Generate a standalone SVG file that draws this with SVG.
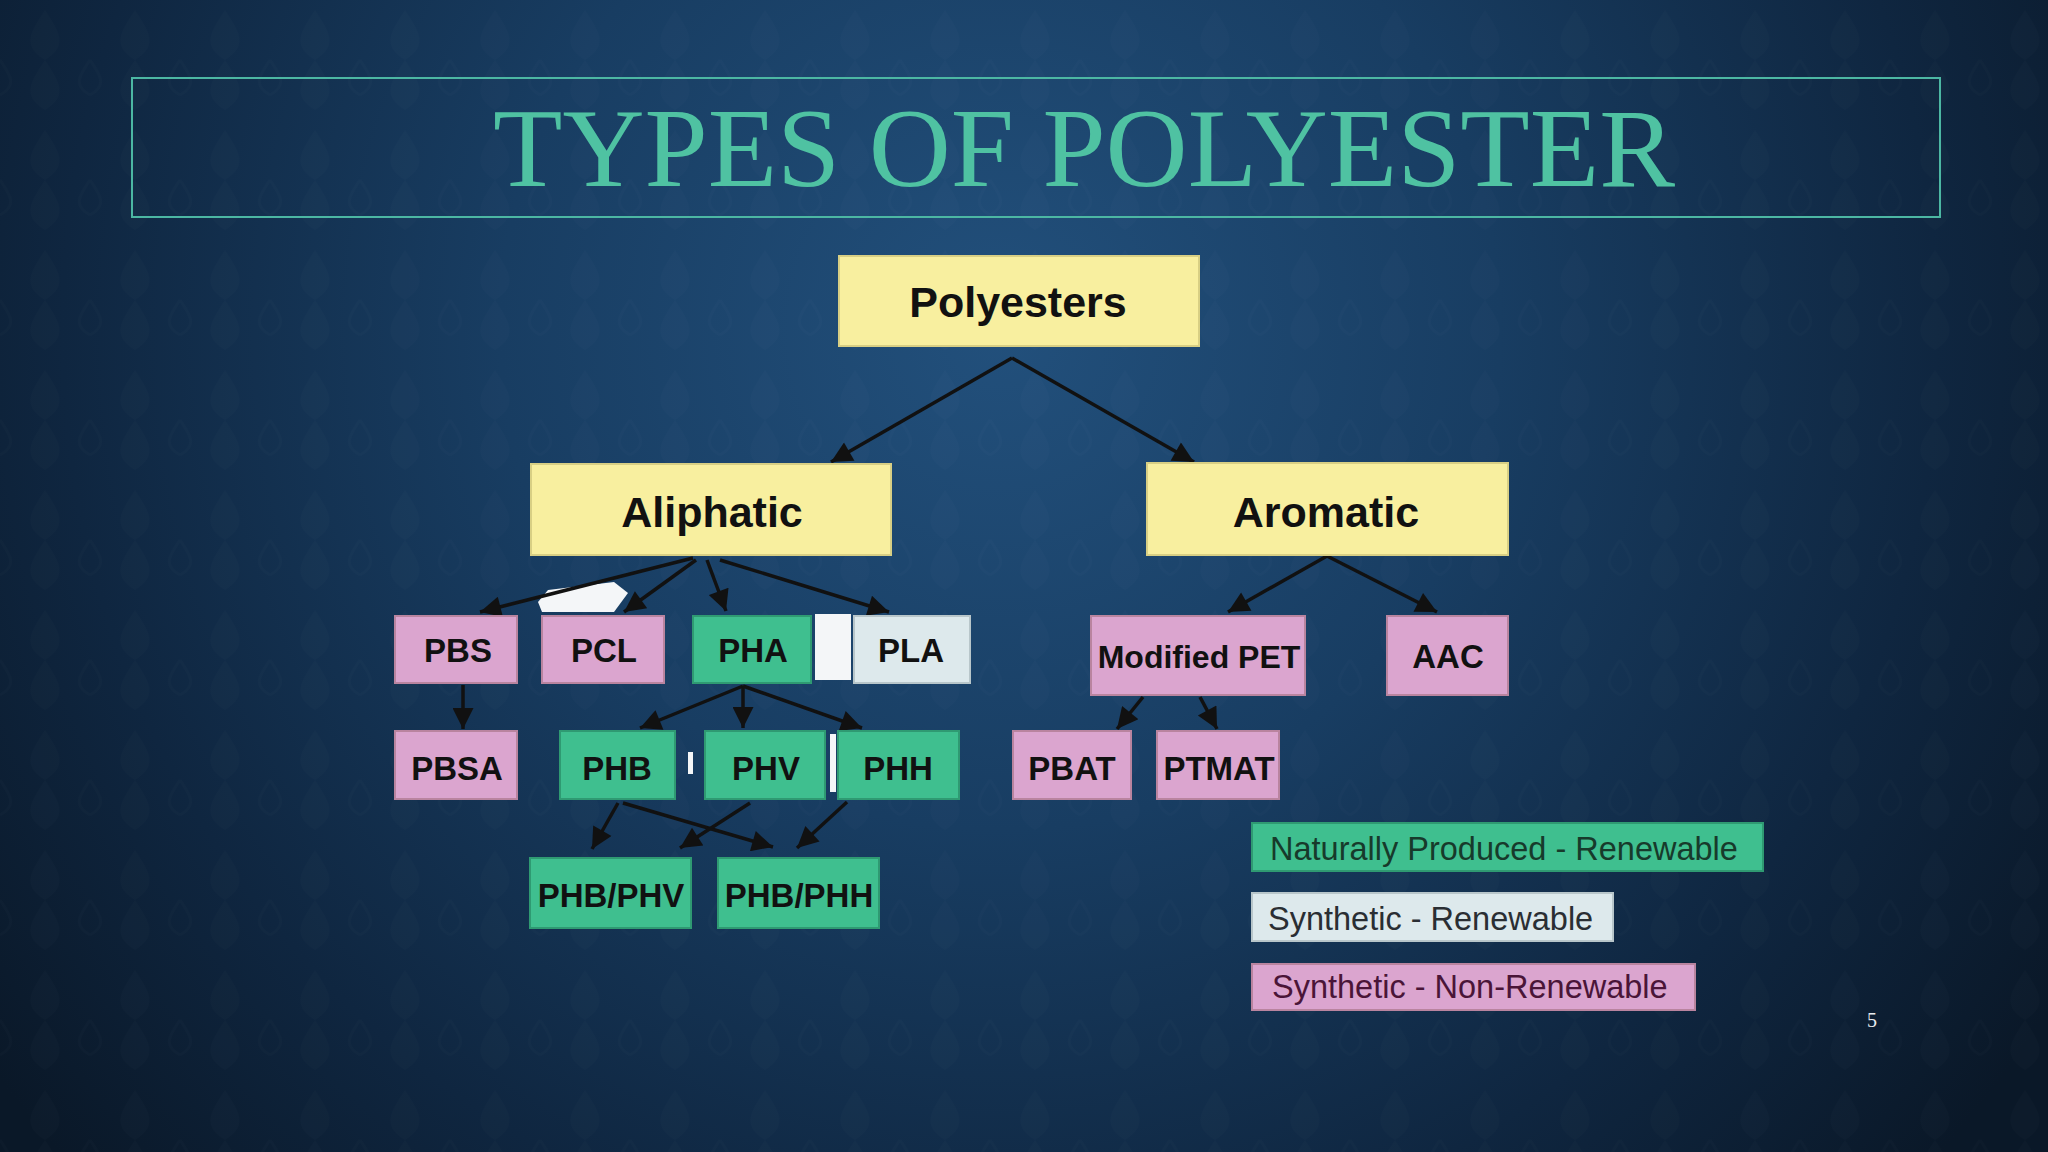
<svg xmlns="http://www.w3.org/2000/svg" width="2048" height="1152" viewBox="0 0 2048 1152">
  <defs>
    <radialGradient id="bg" cx="1000" cy="330" r="1250" gradientUnits="userSpaceOnUse">
      <stop offset="0" stop-color="#22507c"/>
      <stop offset="0.4" stop-color="#183d62"/>
      <stop offset="0.75" stop-color="#0f2640"/>
      <stop offset="1" stop-color="#0a1828"/>
    </radialGradient>
    <pattern id="damask" width="90" height="120" patternUnits="userSpaceOnUse">
      <path d="M45,10 C58,30 70,45 45,60 C20,45 32,30 45,10 Z M45,60 C58,80 70,95 45,110 C20,95 32,80 45,60 Z" fill="#ffffff" opacity="0.5"/>
      <path d="M0,60 C10,75 18,85 0,95 M90,60 C80,75 72,85 90,95" fill="none" stroke="#ffffff" stroke-width="3" opacity="0.5"/>
    </pattern>
    <marker id="ah" viewBox="0 0 10 10" refX="10" refY="5" markerUnits="userSpaceOnUse" markerWidth="23" markerHeight="21" orient="auto">
      <path d="M0,0 L10,5 L0,10 Z" fill="#111"/>
    </marker>
    <style>
      .title { font-family: "Liberation Serif", "DejaVu Serif", serif; font-size: 112px; fill: #4fc2a2; }
      .frame { fill: none; stroke: #4cb7a3; stroke-width: 2; }
      .box { stroke-width: 2; }
      .yellow { fill: #f8ef9f; stroke: #d8cf84; }
      .pink { fill: #dba5cf; stroke: #b9849f; }
      .green { fill: #3fbf8f; stroke: #2f9a72; }
      .light { fill: #dde9ec; stroke: #b8c6ca; }
      .lbl { font-family: "Liberation Sans", Arial, sans-serif; font-weight: bold; fill: #111; text-anchor: middle; }
      .big { font-size: 43px; }
      .small { font-size: 33px; }
      .leg { font-family: "Liberation Sans", Arial, sans-serif; font-size: 32.5px; }
      .conn line { stroke: #111; stroke-width: 3.5; marker-end: url(#ah); }
      .art { fill: #f4f6f8; }
    </style>
  </defs>

  <rect width="2048" height="1152" fill="url(#bg)"/>
  <rect width="2048" height="1152" fill="url(#damask)" opacity="0.025"/>

  <g id="title">
    <rect class="frame" x="132" y="78" width="1808" height="139"/>
    <text class="title" x="1084" y="186" text-anchor="middle" textLength="1182" lengthAdjust="spacingAndGlyphs">TYPES OF POLYESTER</text>
  </g>

  <g id="artifacts">
    <polygon class="art" points="538,602 548,590 614,582 628,593 614,612 542,612"/>
    <rect class="art" x="815" y="614" width="36" height="66"/>
    <rect class="art" x="830" y="734" width="6" height="58"/>
    <rect class="art" x="688" y="752" width="5" height="22"/>
    <rect x="1038" y="337" width="126" height="5" fill="#274a70"/>
  </g>

  <g id="connectors" class="conn">
    <line x1="1012" y1="358" x2="831" y2="462"/>
    <line x1="1012" y1="358" x2="1194" y2="462"/>
    <line x1="693" y1="558" x2="480" y2="612"/>
    <line x1="696" y1="560" x2="624" y2="612"/>
    <line x1="707" y1="560" x2="726" y2="611"/>
    <line x1="720" y1="560" x2="889" y2="612"/>
    <line x1="1327" y1="556" x2="1228" y2="612"/>
    <line x1="1327" y1="556" x2="1437" y2="612"/>
    <line x1="463" y1="685" x2="463" y2="729"/>
    <line x1="743" y1="686" x2="640" y2="728"/>
    <line x1="743" y1="686" x2="743" y2="728"/>
    <line x1="743" y1="686" x2="862" y2="728"/>
    <line x1="1143" y1="697" x2="1117" y2="729"/>
    <line x1="1200" y1="697" x2="1217" y2="729"/>
    <line x1="618" y1="803" x2="592" y2="849"/>
    <line x1="623" y1="803" x2="773" y2="847"/>
    <line x1="750" y1="803" x2="680" y2="848"/>
    <line x1="847" y1="802" x2="797" y2="848"/>
  </g>

  <g id="polyesters">
    <rect class="box yellow" x="839" y="256" width="360" height="90"/>
    <text class="lbl big" x="1018" y="317">Polyesters</text>
  </g>
  <g id="aliphatic">
    <rect class="box yellow" x="531" y="464" width="360" height="91"/>
    <text class="lbl big" x="712" y="527">Aliphatic</text>
  </g>
  <g id="aromatic">
    <rect class="box yellow" x="1147" y="463" width="361" height="92"/>
    <text class="lbl big" x="1326" y="527">Aromatic</text>
  </g>

  <g id="pbs">
    <rect class="box pink" x="395" y="616" width="122" height="67"/>
    <text class="lbl small" x="458" y="662">PBS</text>
  </g>
  <g id="pcl">
    <rect class="box pink" x="542" y="616" width="122" height="67"/>
    <text class="lbl small" x="604" y="662">PCL</text>
  </g>
  <g id="pha">
    <rect class="box green" x="693" y="616" width="118" height="67"/>
    <text class="lbl small" x="753" y="662">PHA</text>
  </g>
  <g id="pla">
    <rect class="box light" x="854" y="616" width="116" height="67"/>
    <text class="lbl small" x="911" y="662">PLA</text>
  </g>
  <g id="modified-pet">
    <rect class="box pink" x="1091" y="616" width="214" height="79"/>
    <text class="lbl" x="1199" y="668" font-size="32">Modified PET</text>
  </g>
  <g id="aac">
    <rect class="box pink" x="1387" y="616" width="121" height="79"/>
    <text class="lbl small" x="1448" y="668">AAC</text>
  </g>

  <g id="pbsa">
    <rect class="box pink" x="395" y="731" width="122" height="68"/>
    <text class="lbl small" x="457" y="780">PBSA</text>
  </g>
  <g id="phb">
    <rect class="box green" x="560" y="731" width="115" height="68"/>
    <text class="lbl small" x="617" y="780">PHB</text>
  </g>
  <g id="phv">
    <rect class="box green" x="705" y="731" width="120" height="68"/>
    <text class="lbl small" x="766" y="780">PHV</text>
  </g>
  <g id="phh">
    <rect class="box green" x="838" y="731" width="121" height="68"/>
    <text class="lbl small" x="898" y="780">PHH</text>
  </g>
  <g id="pbat">
    <rect class="box pink" x="1013" y="731" width="118" height="68"/>
    <text class="lbl small" x="1072" y="780">PBAT</text>
  </g>
  <g id="ptmat">
    <rect class="box pink" x="1157" y="731" width="122" height="68"/>
    <text class="lbl small" x="1219" y="780">PTMAT</text>
  </g>

  <g id="phb-phv">
    <rect class="box green" x="530" y="858" width="161" height="70"/>
    <text class="lbl small" x="611" y="907">PHB/PHV</text>
  </g>
  <g id="phb-phh">
    <rect class="box green" x="718" y="858" width="161" height="70"/>
    <text class="lbl small" x="799" y="907">PHB/PHH</text>
  </g>

  <g id="legend-natural">
    <rect class="box green" x="1252" y="823" width="511" height="48"/>
    <text class="leg" x="1270" y="860" fill="#173a2b">Naturally Produced - Renewable</text>
  </g>
  <g id="legend-synthetic-renewable">
    <rect class="box light" x="1252" y="893" width="361" height="48"/>
    <text class="leg" x="1268" y="930" fill="#2a2e33">Synthetic - Renewable</text>
  </g>
  <g id="legend-synthetic-nonrenewable">
    <rect class="box pink" x="1252" y="964" width="443" height="46"/>
    <text class="leg" x="1272" y="998" fill="#4a1538">Synthetic - Non-Renewable</text>
  </g>

  <text x="1872" y="1027" font-family="Liberation Serif, serif" font-size="20" fill="#e8ecef" text-anchor="middle">5</text>
</svg>
